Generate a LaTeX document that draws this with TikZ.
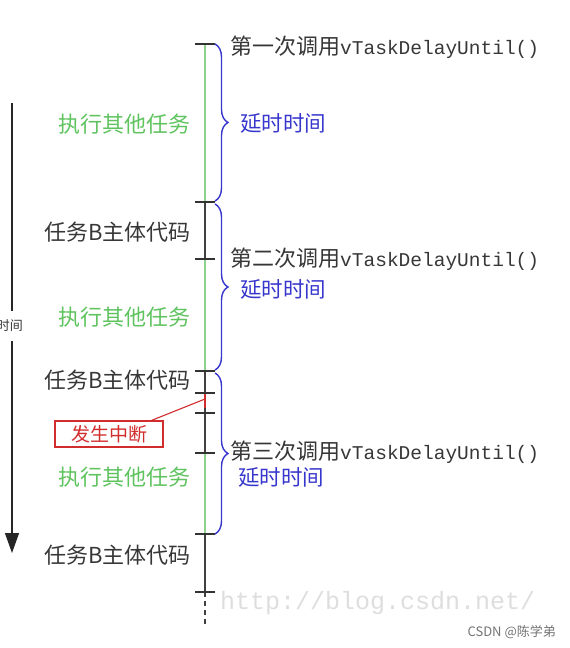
\documentclass[tikz,border=0pt]{standalone}
\usepackage{fontspec}
\setmainfont{Liberation Serif}
\newfontfamily\cjk{Noto Sans CJK SC}
\newfontfamily\monoft{Liberation Mono}
\newfontfamily\sansft{Liberation Sans}
\usetikzlibrary{decorations.pathreplacing,arrows.meta}
\definecolor{txtgray}{RGB}{55,55,55}
\definecolor{tgreen}{RGB}{95,195,95}
\definecolor{lgreen}{RGB}{140,210,140}
\definecolor{tblue}{RGB}{55,55,205}
\definecolor{tred}{RGB}{210,45,45}
\tikzset{
  lbl/.style={inner sep=0pt, yshift=-3.5pt, text height=0.88em, text depth=0.12em, font=\cjk\fontsize{22}{22}\selectfont},
  calllbl/.style={lbl, anchor=west, text=txtgray},
  greenlbl/.style={lbl, anchor=east, text=tgreen},
  tasklbl/.style={lbl, anchor=east, text=txtgray},
  delaylbl/.style={lbl, anchor=west, text=tblue, font=\cjk\fontsize{21.5}{21.5}\selectfont},
  tickmark/.style={draw=black!80, line width=1.3pt},
  axisblack/.style={draw=black!75, line width=1.3pt},
  bracestyle/.style={draw=tblue, line width=1.4pt, decorate, decoration={brace, amplitude=13pt}},
}
\newcommand{\callname}[1]{{\cjk #1}{\monoft\fontsize{19.5}{19.5}\selectfont vTaskDelayUntil()}}
\begin{document}
\begin{tikzpicture}[x=1pt,y=-1pt]
\useasboundingbox (0,0) rectangle (570,648);
% axis coordinates
\coordinate (t0) at (205,44);
\coordinate (t1) at (205,202);
\coordinate (t2) at (205,259);
\coordinate (t3) at (205,371);
\coordinate (t4) at (205,393);
\coordinate (t4b) at (205,408);
\coordinate (t5) at (205,413);
\coordinate (t6) at (205,453);
\coordinate (t7) at (205,534);
\coordinate (t8) at (205,592);
\coordinate (tend) at (205,626);
% green base line
\draw[lgreen, line width=1.4pt] (t0) -- (t7);
% black segments
\draw[axisblack] (t1) -- (t2);
\draw[axisblack] (t3) -- (t4);
\draw[tred, line width=1.3pt] (t4) -- (t4b);
\draw[axisblack] (t4b) -- (t6);
\draw[axisblack] (t7) -- (t8);
\draw[black!75, line width=1.3pt, dash pattern=on 5pt off 4pt] (t8) -- (tend);
% ticks
\foreach \t in {t0,t1,t2,t3,t4,t5,t6,t7,t8}{
  \draw[tickmark] ([xshift=-10pt]\t) -- ([xshift=10pt]\t);
}
% braces
\draw[bracestyle] (215,44) -- (215,201);
\draw[bracestyle] (215,204) -- (215,370);
\draw[bracestyle] (215,373) -- (215,534);
% right labels
\node[calllbl] (c1) at (230,47) {\callname{第一次调用}};
\node[delaylbl] (d1) at (240,124) {延时时间};
\node[calllbl] (c2) at (230,259) {\callname{第二次调用}};
\node[delaylbl] (d2) at (240,290) {延时时间};
\node[calllbl] (c3) at (230,452) {\callname{第三次调用}};
\node[delaylbl] (d3) at (238,478) {延时时间};
% left labels
\node[greenlbl] (g1) at (191,125) {执行其他任务};
\node[tasklbl] (b1) at (191,233) {任务B主体代码};
\node[greenlbl] (g2) at (191,318) {执行其他任务};
\node[tasklbl] (b2) at (191,381) {任务B主体代码};
\node[greenlbl] (g3) at (191,478) {执行其他任务};
\node[tasklbl] (b3) at (191,556) {任务B主体代码};
% interrupt box
\node[draw=tred, line width=1.3pt, text=tred, font=\cjk\fontsize{19}{19}\selectfont,
      minimum width=108pt, minimum height=26pt, inner sep=0pt] (irq) at (109,434) {发生中断};
\draw[tred, line width=1.1pt] (irq.north east) ++(-12pt,0) -- (205,399);
% time arrow
\coordinate (ta) at (12,103);
\coordinate (tb) at (12,553);
\draw[black!85, line width=1.3pt, -{Triangle[length=20pt,width=14pt]}] (ta) -- (tb);
\node[fill=white, inner sep=0pt, minimum height=30pt, font=\cjk\fontsize{13}{13}\selectfont, text=txtgray] (tl) at (10,326) {时间};
% watermarks
\node[anchor=west, inner sep=0pt, text=black!13, font=\monoft\fontsize{25}{25}\selectfont] (wm) at (220,603) {http://blog.csdn.net/};
\node[anchor=east, inner sep=0pt, text=black!55, font=\cjk\fontsize{13}{13}\selectfont] (csdn) at (556,632) {CSDN @陈学弟};
\end{tikzpicture}
\end{document}
